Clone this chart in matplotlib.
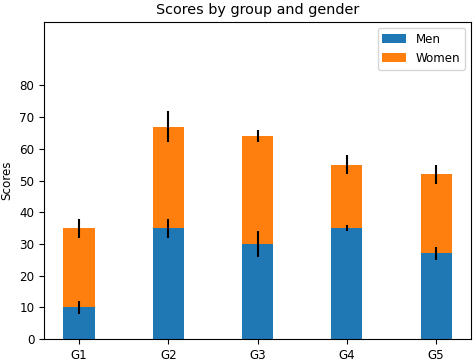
import numpy as np
import matplotlib.pyplot as plt

labels = ['G1', 'G2', 'G3', 'G4', 'G5']
men_means = [10, 35, 30, 35, 27]
women_means = [25, 32, 34, 20, 25]
men_std = [2, 3, 4, 1, 2]
women_std = [3, 5, 2, 3, 3]

plt.rcParams['font.size'] = 8.6

ind = np.arange(len(labels))
width = 0.35

fig, ax = plt.subplots(figsize=(4.74, 3.61), dpi=100)
ax.bar(ind, men_means, width, yerr=men_std, label='Men')
ax.bar(ind, women_means, width, yerr=women_std, bottom=men_means, label='Women')

ax.set_ylabel('Scores')
ax.set_title('Scores by group and gender')
ax.set_xticks(ind)
ax.set_xticklabels(labels)
ax.set_yticks(np.arange(0, 81, 10))
ax.set_ylim(0, 100)
ax.legend()

fig.subplots_adjust(left=0.093, right=0.994, top=0.939, bottom=0.061)
fig.savefig('out.png')
